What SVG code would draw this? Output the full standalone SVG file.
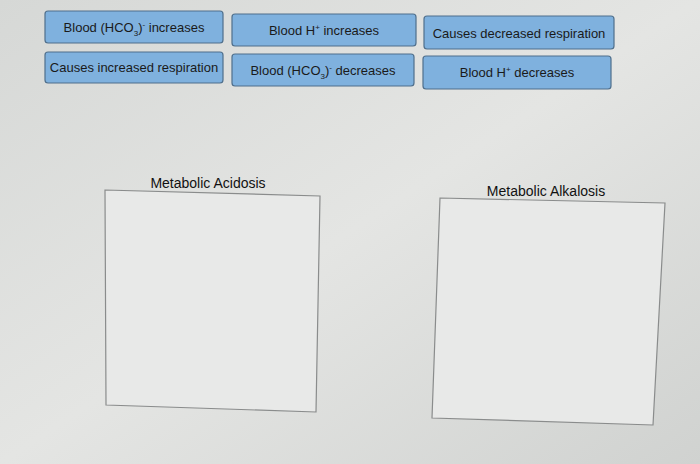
<svg xmlns="http://www.w3.org/2000/svg" width="700" height="464" viewBox="0 0 700 464">
<defs>
<linearGradient id="bg" x1="0" y1="0" x2="1" y2="1">
<stop offset="0" stop-color="#d6d8d6"/><stop offset="0.5" stop-color="#e4e5e3"/><stop offset="1" stop-color="#d0d2d0"/>
</linearGradient>
</defs>
<style>
.b{fill:#7fb1de;stroke:#4f6f8c;stroke-width:1.2}
.t{font-family:"Liberation Sans",Arial,sans-serif;font-size:13px;fill:#1a1a1a;text-anchor:middle}
.s{font-size:8px}
.box{fill:#e8e9e8;stroke:#8a8c8c;stroke-width:1.2}
.h{font-family:"Liberation Sans",Arial,sans-serif;font-size:14px;fill:#111;text-anchor:middle}
</style>
<rect width="700" height="464" fill="url(#bg)"/>
<g id="n1"><rect class="b" x="45" y="11" width="178" height="32" rx="3"/><text class="t" x="134" y="32">Blood (HCO<tspan class="s" dy="4">3</tspan><tspan dy="-4">)</tspan><tspan class="s" dy="-5">-</tspan><tspan dy="5"> increases</tspan></text></g>
<g id="n2"><rect class="b" x="232" y="14" width="184" height="32" rx="3"/><text class="t" x="324" y="35">Blood H<tspan class="s" dy="-5">+</tspan><tspan dy="5"> increases</tspan></text></g>
<g id="n3"><rect class="b" x="424" y="16" width="190" height="33" rx="3"/><text class="t" x="519" y="38" font-size="12.5">Causes decreased respiration</text></g>
<g id="n4"><rect class="b" x="45" y="52" width="178" height="31" rx="3"/><text class="t" x="134" y="72" font-size="12.5">Causes increased respiration</text></g>
<g id="n5"><rect class="b" x="232" y="54" width="182" height="32" rx="3"/><text class="t" x="323" y="75">Blood (HCO<tspan class="s" dy="4">3</tspan><tspan dy="-4">)</tspan><tspan class="s" dy="-5">-</tspan><tspan dy="5"> decreases</tspan></text></g>
<g id="n6"><rect class="b" x="423" y="56" width="188" height="33" rx="3"/><text class="t" x="517" y="77">Blood H<tspan class="s" dy="-5">+</tspan><tspan dy="5"> decreases</tspan></text></g>
<g id="acid"><text class="h" x="208" y="188">Metabolic Acidosis</text><path class="box" d="M105,190 L320,196 L316,412 L106,405 Z"/></g>
<g id="alk"><text class="h" x="546" y="196">Metabolic Alkalosis</text><path class="box" d="M440,198 L665,203 L653,425 L432,418 Z"/></g>
<g id="connectors"/>
</svg>
